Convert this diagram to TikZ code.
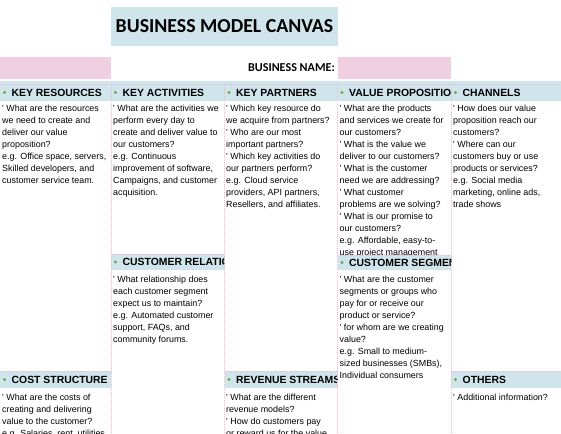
\documentclass[tikz,border=0pt]{standalone}
\usepackage{fontspec}
\setmainfont{Liberation Sans}
\newfontfamily\titlefont{Carlito}
\usetikzlibrary{positioning, calc}
\definecolor{hdrblue}{RGB}{207,228,235}
\definecolor{namepink}{RGB}{240,208,224}
\definecolor{gridpink}{RGB}{236,184,212}
\definecolor{dotgreen}{RGB}{104,170,64}
\newcommand{\qm}{\textquotesingle\ }

\begin{document}
\begin{tikzpicture}[x=1pt, y=-1pt]
\tikzset{hdrtext/.style={anchor=west, inner sep=0, font=\bfseries\fontsize{10.4}{12}\selectfont},
  bodytext/.style={anchor=north west, inner sep=0, align=left, font=\fontsize{8.9}{12}\selectfont},
  gridline/.style={draw=gridpink, line width=0.7pt, dash pattern=on 1pt off 1pt}}
\useasboundingbox (0,0) rectangle (561,433);

% title and business name
\fill[hdrblue] (111,7) rectangle (338,46);
\node[font=\titlefont\bfseries\fontsize{19.8}{22}\selectfont, inner sep=0] (title) at (224.5,26.5) {BUSINESS MODEL CANVAS};
\fill[namepink] (0,57) rectangle (111,79);
\fill[namepink] (338,57) rectangle (451,79);
\node[font=\titlefont\bfseries\fontsize{12.1}{14}\selectfont, anchor=east, inner sep=0] (bizname) at (335,68) {BUSINESS NAME:};

% cell texts
\node[bodytext] (krtext) at (2,104.5) {\qm What are the resources\\we need to create and\\deliver our value\\proposition?\\e.g. Office space, servers,\\Skilled developers, and\\customer service team.};
\node[bodytext] (katext) at (113,104.5) {\qm What are the activities we\\perform every day to\\create and deliver value to\\our customers?\\e.g. Continuous\\improvement of software,\\Campaigns, and customer\\acquisition.};
\node[bodytext] (kptext) at (226,104.5) {\qm Which key resource do\\we acquire from partners?\\\qm Who are our most\\important partners?\\\qm Which key activities do\\our partners perform?\\e.g. Cloud service\\providers, API partners,\\Resellers, and affiliates.};
\node[bodytext] (vptext) at (339.5,104.5) {\qm What are the products\\and services we create for\\our customers?\\\qm What is the value we\\deliver to our customers?\\\qm What is the customer\\need we are addressing?\\\qm What customer\\problems are we solving?\\\qm What is our promise to\\our customers?\\e.g. Affordable, easy-to-\\use project management};
\node[bodytext] (chtext) at (453,104.5) {\qm How does our value\\proposition reach our\\customers?\\\qm Where can our\\customers buy or use\\products or services?\\e.g. Social media\\marketing, online ads,\\trade shows};
\node[bodytext] (crtext) at (113,275.5) {\qm What relationship does\\each customer segment\\expect us to maintain?\\e.g. Automated customer\\support, FAQs, and\\community forums.};
\node[bodytext] (cstext) at (339.5,275.5) {\qm What are the customer\\segments or groups who\\pay for or receive our\\product or service?\\\qm for whom are we creating\\value?\\e.g. Small to medium-\\sized businesses (SMBs),\\Individual consumers};
\node[bodytext] (costtext) at (2,394) {\qm What are the costs of\\creating and delivering\\value to the customer?\\e.g. Salaries, rent, utilities};
\node[bodytext] (revtext) at (226,394) {\qm What are the different\\revenue models?\\\qm How do customers pay\\or reward us for the value};
\node[bodytext] (othtext) at (453,394) {\qm Additional information?};

% headers
\fill[hdrblue] (0,81) rectangle (561,101);
\foreach \xa/\xb/\yt/\yb/\nm/\lbl in {
  0/111/84/101/kr/KEY RESOURCES,
  111/224.5/84/101/ka/KEY ACTIVITIES,
  224.5/337.5/84/101/kp/KEY PARTNERS,
  337.5/451/84/101/vp/VALUE PROPOSITIONS,
  451/561/84/101/ch/CHANNELS,
  111/224.5/254/270/cr/CUSTOMER RELATIONSHIPS,
  337.5/451/255/270/cs/CUSTOMER SEGMENTS,
  0/111/371/388/cost/COST STRUCTURE,
  224.5/337.5/371/388/rev/REVENUE STREAMS,
  451/561/371/388/oth/OTHERS}{
  \begin{scope}
    \clip (\xa,\yt) rectangle (\xb,\yb);
    \fill[hdrblue] (\xa,\yt) rectangle (\xb,\yb);
    \fill[dotgreen] (\xa+4.5,{(\yt+\yb)/2}) circle (1.6);
    \node[hdrtext] (\nm) at (\xa+11.5,{(\yt+\yb)/2}) {\lbl};
  \end{scope}
  \draw[gridline] (\xa,\yt) -- (\xb,\yt);
}

% column rules
\foreach \x in {111,224.5,337.5,451}
  \draw[gridline] (\x,84) -- (\x,433);
\end{tikzpicture}
\end{document}
